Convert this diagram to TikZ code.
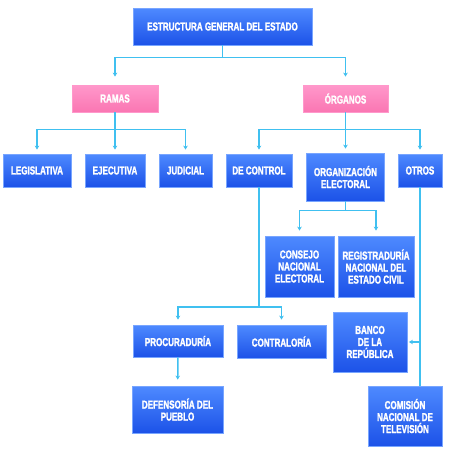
\documentclass[tikz,border=0pt]{standalone}
\usepackage{fontspec}
\newfontfamily\cajafont{Liberation Sans Bold}[FakeStretch=0.70, FakeBold=1.6]
\usetikzlibrary{arrows.meta, positioning, calc}
\definecolor{azulA}{RGB}{78,138,255}
\definecolor{azulB}{RGB}{28,82,232}
\definecolor{azulBorde}{RGB}{120,165,255}
\definecolor{rosaA}{RGB}{255,152,203}
\definecolor{rosaB}{RGB}{250,118,178}
\definecolor{cian}{RGB}{64,192,240}

\begin{document}
\begin{tikzpicture}[x=1pt, y=-1pt,
    caja/.style={draw=azulBorde, line width=0.8pt, top color=azulA, bottom color=azulB,
                 text=white, align=center, inner sep=0pt,
                 font=\cajafont\fontsize{11.5}{12}\selectfont},
    rama/.style={caja, draw=rosaA, top color=rosaA, bottom color=rosaB},
    linea/.style={draw=cian, line width=1.5pt},
    flecha/.style={linea, -{Stealth[length=4pt, width=4.5pt]}, shorten >=4pt}]
    \useasboundingbox[fill=white] (0,0) rectangle (450,450);
    \node[caja, minimum width=179pt, minimum height=37pt] (estr) at (222.5,26.5) {ESTRUCTURA GENERAL DEL ESTADO};
    \node[rama, minimum width=86pt, minimum height=27pt] (ramas) at (115,98.5) {RAMAS};
    \node[rama, minimum width=85pt, minimum height=27pt] (organos) at (345.5,98.5) {ÓRGANOS};
    \node[caja, minimum width=68pt, minimum height=33pt] (leg) at (37,170.5) {LEGISLATIVA};
    \node[caja, minimum width=60pt, minimum height=33pt] (eje) at (115,170.5) {EJECUTIVA};
    \node[caja, minimum width=53pt, minimum height=33pt] (jud) at (185.5,170.5) {JUDICIAL};
    \node[caja, minimum width=66pt, minimum height=33pt] (dctrl) at (259,170.5) {DE CONTROL};
    \node[caja, minimum width=78pt, minimum height=48pt] (orgel) at (345.5,177) {ORGANIZACIÓN\\ELECTORAL};
    \node[caja, minimum width=44pt, minimum height=33pt] (otros) at (420,170.5) {OTROS};
    \node[caja, minimum width=69pt, minimum height=61pt] (consejo) at (299.5,266.5) {CONSEJO\\NACIONAL\\ELECTORAL};
    \node[caja, minimum width=76pt, minimum height=61pt] (regis) at (376,266.5) {REGISTRADURÍA\\NACIONAL DEL\\ESTADO CIVIL};
    \node[caja, minimum width=90pt, minimum height=32pt] (procu) at (178,341) {PROCURADURÍA};
    \node[caja, minimum width=89pt, minimum height=33pt] (contra) at (281.5,341.5) {CONTRALORÍA};
    \node[caja, minimum width=91pt, minimum height=47pt] (defen) at (177.5,409.5) {DEFENSORÍA DEL\\PUEBLO};
    \node[caja, minimum width=74pt, minimum height=60pt] (banco) at (370,342) {BANCO\\DE LA\\REPÚBLICA};
    \node[caja, minimum width=74pt, minimum height=60pt] (comision) at (405,416) {COMISIÓN\\NACIONAL DE\\TELEVISIÓN};

    \coordinate (bar0) at ($(estr.south)+(0,12)$);
    \draw[linea] (estr.south) -- (bar0);
    \draw[flecha, shorten >=8pt] (bar0) -| (ramas);
    \draw[flecha, shorten >=8pt] (bar0) -| (organos);

    \coordinate (bar1) at ($(ramas.south)+(0,17)$);
    \draw[linea] (ramas.south) -- (bar1);
    \draw[flecha] (bar1) -| (leg);
    \draw[flecha] (bar1) -- (eje);
    \draw[flecha] (bar1) -| (jud);

    \coordinate (bar2) at ($(organos.south)+(0,17)$);
    \draw[linea] (organos.south) -- (bar2);
    \draw[flecha] (bar2) -| (dctrl);
    \draw[flecha] (bar2) -- (orgel);
    \draw[flecha] (bar2) -| (otros);

    \coordinate (bar3) at ($(orgel.south)+(0,9)$);
    \draw[linea] (orgel.south) -- (bar3);
    \draw[flecha, shorten >=5pt] (bar3) -| (consejo);
    \draw[flecha, shorten >=5pt] (bar3) -| (regis);

    \coordinate (bar4) at (dctrl.south |- 0,307);
    \draw[linea] (dctrl.south) -- (bar4);
    \draw[flecha, shorten >=5pt] (bar4) -| (procu);
    \draw[flecha, shorten >=5pt] (bar4) -| (contra);
    \draw[flecha, shorten >=6pt] (procu) -- (defen);

    \draw[linea] (otros.south) -- (otros.south |- comision.north);
    \draw[flecha, shorten >=1.5pt] (otros.south |- banco.east) -- (banco.east);
\end{tikzpicture}
\end{document}
